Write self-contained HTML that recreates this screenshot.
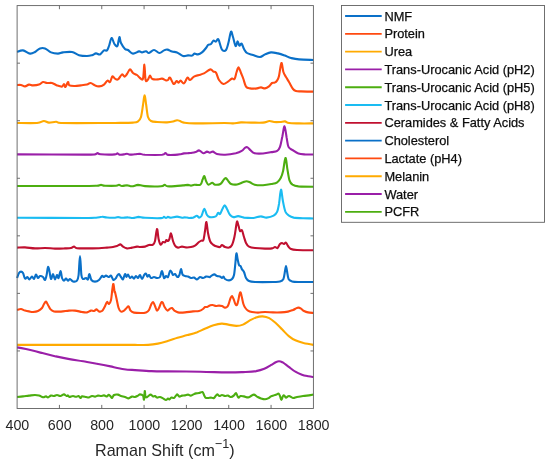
<!DOCTYPE html>
<html><head><meta charset="utf-8"><title>Raman spectra</title>
<style>html,body{margin:0;padding:0;background:#fff}svg{display:block}text{font-family:"Liberation Sans",Arial,Helvetica,sans-serif;fill:#262626}.lg text{fill:#0d0d0d;stroke:#0d0d0d;stroke-width:.25px}</style></head><body>
<svg width="550" height="463" viewBox="0 0 550 463">
<rect x="0" y="0" width="550" height="463" fill="#fff"/>
<g fill="none" stroke-width="2.1" stroke-linejoin="round" stroke-linecap="butt">
<path stroke="#0A70C8" d="M17.1,52.0C18.1,51.7 20.8,50.1 23.0,50.4C25.2,50.7 28.0,53.3 30.0,53.6C32.0,53.9 33.3,52.9 35.0,52.0C36.7,51.1 38.3,49.0 40.0,48.4C41.7,47.8 43.1,47.7 45.0,48.4C46.9,49.1 48.8,51.5 51.0,52.4C53.2,53.3 56.0,53.6 58.0,53.6C60.0,53.6 60.6,52.7 63.0,52.4C65.4,52.1 69.3,51.5 72.0,52.0C74.7,52.5 76.5,54.5 79.0,55.2C81.5,55.9 84.8,56.0 87.0,56.0C89.2,56.0 90.5,55.6 92.0,55.2C93.5,54.8 94.6,53.5 96.0,53.4C97.4,53.3 98.6,54.9 100.0,54.4C101.4,53.9 102.8,51.1 104.0,50.4C105.2,49.7 106.2,51.1 107.0,50.4C107.8,49.7 108.2,48.1 109.0,46.0C109.8,43.9 110.7,38.3 111.6,38.0C112.5,37.7 113.4,42.6 114.4,44.0C115.4,45.4 116.6,47.2 117.4,46.0C118.2,44.8 118.8,37.5 119.4,37.0C120.0,36.5 120.0,41.0 121.0,43.0C122.0,45.0 123.8,47.8 125.0,49.0C126.2,50.2 126.6,49.2 128.0,50.0C129.4,50.8 131.1,53.4 133.0,53.6C134.9,53.8 137.5,51.6 139.0,51.4C140.5,51.2 140.8,52.4 142.0,52.4C143.2,52.4 144.8,51.1 146.0,51.2C147.2,51.3 147.6,53.2 149.0,53.0C150.4,52.8 152.2,50.0 154.0,50.0C155.8,50.0 157.7,52.9 159.4,53.0C161.1,53.1 162.6,51.0 164.0,50.4C165.4,49.8 166.0,49.4 167.4,49.6C168.8,49.8 170.4,51.1 172.0,51.6C173.6,52.1 175.1,51.7 177.0,52.4C178.9,53.1 181.1,55.5 183.0,56.0C184.9,56.5 186.5,55.5 188.0,55.4C189.5,55.3 190.9,55.9 192.0,55.6C193.1,55.3 193.4,53.8 194.4,53.6C195.4,53.4 196.7,54.6 198.0,54.4C199.3,54.2 200.6,53.5 202.0,52.4C203.4,51.3 205.0,49.3 206.0,48.0C207.0,46.7 207.2,45.7 208.0,45.0C208.8,44.3 210.1,44.7 211.0,44.0C211.9,43.3 212.6,41.0 213.4,40.6C214.2,40.2 215.2,41.8 216.0,41.6C216.8,41.4 217.4,38.0 218.4,39.4C219.4,40.8 220.7,47.8 222.0,49.6C223.3,51.4 224.9,51.3 226.0,50.0C227.1,48.7 227.8,45.1 228.6,42.0C229.4,38.9 230.3,32.5 231.0,31.6C231.7,30.8 232.2,34.6 233.0,37.0C233.8,39.4 234.8,45.3 235.6,46.0C236.4,46.7 237.0,41.5 237.6,41.4C238.2,41.3 238.7,45.2 239.4,45.6C240.1,46.0 240.8,43.0 241.6,43.6C242.4,44.2 243.1,47.4 244.0,49.0C244.9,50.6 245.5,52.0 247.0,53.0C248.5,54.0 250.8,54.3 253.0,55.0C255.2,55.7 258.0,57.1 260.0,57.0C262.0,56.9 263.1,55.2 265.0,54.4C266.9,53.6 268.8,52.6 271.0,52.4C273.2,52.2 275.6,52.9 278.0,53.4C280.4,53.9 282.8,54.8 285.0,55.6C287.2,56.4 288.6,57.4 291.0,58.0C293.4,58.6 295.2,59.1 299.0,59.4C302.8,59.7 311.0,59.9 313.4,60.0"/>
<path stroke="#FF4A10" d="M17.1,85.0C17.8,85.0 19.7,84.8 21.0,85.0C22.3,85.2 23.6,86.5 25.0,86.4C26.4,86.3 27.6,84.8 29.0,84.6C30.4,84.4 31.3,85.4 33.0,85.4C34.7,85.4 37.3,85.2 39.0,84.6C40.7,84.0 41.6,82.3 43.0,82.0C44.4,81.7 45.5,82.8 47.0,83.0C48.5,83.2 50.3,82.6 52.0,83.0C53.7,83.4 55.3,84.8 57.0,85.4C58.7,86.0 60.8,86.8 62.0,86.6C63.2,86.4 63.4,83.9 64.0,84.0C64.6,84.1 64.7,87.3 65.4,87.0C66.1,86.7 67.3,82.3 68.0,82.0C68.7,81.7 68.2,84.7 69.4,85.4C70.6,86.1 73.0,86.0 75.0,86.0C77.0,86.0 79.0,85.6 81.0,85.4C83.0,85.2 85.4,85.0 87.0,84.6C88.6,84.2 89.2,82.9 90.6,83.0C92.0,83.1 93.6,84.8 95.0,85.4C96.4,86.0 97.5,86.5 99.0,86.4C100.5,86.3 102.6,85.6 104.0,84.6C105.4,83.6 106.4,81.0 107.4,80.6C108.4,80.2 109.2,82.7 110.0,82.0C110.8,81.3 111.6,77.0 112.4,76.4C113.2,75.8 114.0,78.1 115.0,78.6C116.0,79.1 116.8,80.1 118.0,79.4C119.2,78.7 120.9,74.9 122.0,74.4C123.1,73.9 123.8,76.7 124.6,76.6C125.4,76.5 126.1,75.2 127.0,74.0C127.9,72.8 129.0,69.6 130.0,69.4C131.0,69.2 131.8,72.0 133.0,73.0C134.2,74.0 135.8,74.2 137.0,75.0C138.2,75.8 139.0,77.4 140.0,78.0C141.0,78.6 142.3,80.9 143.0,78.6C143.7,76.3 144.0,64.4 144.4,64.6C144.8,64.8 145.0,77.5 145.6,80.0C146.2,82.5 147.3,80.1 148.0,79.4C148.7,78.7 149.3,75.7 150.0,75.6C150.7,75.5 151.0,78.4 152.4,79.0C153.8,79.6 156.4,79.5 158.0,79.4C159.6,79.3 160.6,78.4 162.0,78.6C163.4,78.8 165.0,80.2 166.0,80.4C167.0,80.6 167.3,80.5 168.0,80.0C168.7,79.5 169.0,76.9 170.0,77.6C171.0,78.3 172.5,83.4 173.6,84.0C174.7,84.6 175.8,81.2 176.6,81.0C177.4,80.8 177.9,82.7 178.6,82.6C179.3,82.5 179.7,80.5 180.6,80.6C181.5,80.7 182.8,83.9 184.0,83.4C185.2,82.9 186.4,78.2 187.4,77.6C188.4,77.0 188.9,80.2 190.0,80.0C191.1,79.8 192.5,77.4 194.0,76.6C195.5,75.8 197.3,75.5 199.0,75.0C200.7,74.5 202.5,74.1 204.0,73.4C205.5,72.7 206.8,71.3 208.0,70.6C209.2,69.9 210.1,69.2 211.0,69.4C211.9,69.6 212.6,71.1 213.4,71.6C214.2,72.1 215.0,71.2 216.0,72.6C217.0,74.0 217.7,78.1 219.0,80.0C220.3,81.9 221.9,83.7 223.4,84.0C224.9,84.3 226.5,82.5 228.0,81.6C229.5,80.7 230.9,79.0 232.0,78.6C233.1,78.2 233.8,80.1 234.6,79.0C235.4,77.9 235.9,74.0 236.6,72.0C237.3,70.0 237.9,67.2 238.6,67.4C239.3,67.6 240.2,71.0 241.0,73.0C241.8,75.0 242.6,76.7 243.4,79.0C244.2,81.3 244.9,85.0 246.0,86.6C247.1,88.2 248.1,88.1 250.0,88.4C251.9,88.7 255.1,88.6 257.0,88.4C258.9,88.2 259.6,87.4 261.0,87.4C262.4,87.4 263.6,88.6 265.0,88.4C266.4,88.2 267.8,87.3 269.0,86.4C270.2,85.5 271.0,83.6 272.0,83.0C273.0,82.4 273.8,83.0 274.6,82.6C275.5,82.2 276.3,81.7 277.0,80.6C277.7,79.5 278.3,79.0 279.0,76.0C279.7,73.0 280.7,63.7 281.4,63.0C282.1,62.3 282.6,69.6 283.4,72.0C284.2,74.4 285.0,75.3 286.0,77.0C287.0,78.7 287.8,80.0 289.0,82.0C290.2,84.0 291.8,87.5 293.0,89.0C294.2,90.5 294.6,90.6 296.0,91.0C297.4,91.4 298.0,91.3 301.0,91.4C304.0,91.5 311.3,91.6 313.4,91.6"/>
<path stroke="#FFAA00" d="M17.1,123.0C20.5,123.0 32.5,123.3 37.0,123.0C41.5,122.7 41.8,121.1 43.8,121.0C45.8,120.9 46.9,122.5 49.0,122.6C51.1,122.7 54.2,121.7 56.2,121.8C58.2,121.9 56.2,122.8 61.0,123.0C70.3,123.2 101.8,123.0 111.0,123.0C115.0,123.0 111.3,123.1 115.0,123.0C118.7,122.9 129.1,122.9 133.0,122.6C136.9,122.3 136.6,122.4 138.0,121.4C139.4,120.4 140.2,119.8 141.0,117.0C141.8,114.2 142.5,108.3 143.0,105.0C143.5,101.7 143.7,99.4 144.0,97.8C144.3,96.2 144.4,95.4 144.6,95.4C144.8,95.4 144.9,96.2 145.2,97.8C145.5,99.4 145.7,101.7 146.2,105.0C146.7,108.3 147.2,114.3 148.0,117.0C148.8,119.7 149.5,120.2 151.0,121.0C152.5,121.8 154.3,121.8 157.0,122.0C159.7,122.2 164.3,122.5 167.0,122.4C169.7,122.3 171.3,122.0 173.0,121.6C174.7,121.2 175.8,120.3 177.0,120.2C178.2,120.1 178.8,120.6 180.0,121.0C181.2,121.4 181.4,122.2 184.0,122.6C186.6,123.0 188.1,123.3 195.0,123.4C201.9,123.5 218.1,123.0 224.6,123.0C231.1,123.0 230.2,123.5 233.0,123.4C235.8,123.3 237.9,122.5 241.0,122.4C244.1,122.3 247.3,122.6 251.0,122.6C254.7,122.6 259.9,122.9 263.0,122.6C266.1,122.3 267.5,121.1 269.4,121.0C271.3,120.9 272.2,121.8 274.0,122.0C275.8,122.2 278.1,122.1 280.0,122.0C281.9,121.9 283.5,121.2 285.0,121.4C286.5,121.6 286.6,122.7 289.0,123.0C291.4,123.3 294.9,123.3 299.0,123.4C303.1,123.5 311.0,123.4 313.4,123.4"/>
<path stroke="#9A1FA8" d="M17.1,154.4C28.6,154.5 71.8,154.6 85.0,154.6C95.0,154.6 92.9,154.7 95.0,154.4C97.1,154.2 96.6,153.1 97.6,153.1C98.6,153.1 97.6,154.1 100.6,154.3C103.6,154.5 112.1,154.6 115.0,154.4C117.4,154.3 116.7,153.4 117.4,153.4C118.1,153.4 118.3,154.4 119.4,154.6C120.5,154.8 122.7,154.6 124.0,154.4C125.3,154.3 126.0,153.7 127.0,153.7C128.0,153.7 128.6,154.5 130.0,154.6C131.4,154.7 133.3,154.4 135.0,154.3C136.7,154.2 138.3,153.8 140.0,153.8C141.7,153.9 141.3,154.6 145.0,154.8C148.7,154.9 158.5,155.0 162.0,154.8C165.4,154.5 164.4,153.1 165.4,153.1C166.4,153.1 166.4,154.6 168.0,154.9C169.6,155.2 173.0,155.0 175.0,154.9C177.0,154.8 178.5,154.6 180.0,154.3C181.5,154.0 182.5,153.6 184.0,153.4C185.5,153.2 187.6,153.2 189.0,153.1C190.4,153.0 191.0,153.0 192.1,152.8C193.2,152.7 194.4,152.5 195.6,152.1C196.8,151.7 197.9,150.2 199.2,150.4C200.5,150.7 202.1,153.1 203.4,153.3C204.8,153.5 205.9,151.7 207.0,151.6C208.1,151.6 208.8,152.8 209.8,152.8C210.8,152.8 211.7,151.4 212.9,151.6C214.1,151.8 214.8,153.5 216.9,154.0C219.0,154.5 222.0,154.8 225.2,154.7C228.4,154.6 233.0,153.9 235.8,153.3C238.6,152.6 240.1,151.9 241.7,150.9C243.3,150.0 244.3,148.2 245.3,147.6C246.3,147.0 246.7,146.9 247.6,147.4C248.6,147.9 249.5,149.4 250.7,150.4C251.9,151.5 252.6,152.8 254.7,153.3C256.8,153.8 260.2,153.7 263.0,153.5C265.8,153.3 268.9,152.6 271.3,152.1C273.7,151.7 275.7,151.8 277.2,150.9C278.7,150.0 279.1,149.4 280.0,146.9C280.9,144.4 281.6,139.8 282.4,136.3C283.1,132.8 283.8,126.1 284.5,126.3C285.2,126.6 286.0,134.0 286.6,137.4C287.3,140.9 287.5,144.8 288.5,146.9C289.5,149.0 290.9,148.9 292.5,150.0C294.2,151.1 296.2,152.8 298.4,153.5C300.7,154.3 303.0,154.3 305.5,154.5C308.1,154.6 312.1,154.5 313.4,154.5"/>
<path stroke="#4CAE10" d="M17.1,186.0C28.6,186.0 71.4,186.1 85.0,186.0C97.0,185.9 94.3,185.9 97.0,185.7C99.7,185.5 99.6,184.9 101.0,184.9C102.4,184.9 102.5,185.6 105.0,185.7C107.5,185.8 113.6,185.9 116.0,185.7C118.4,185.5 118.0,184.7 119.0,184.8C120.0,184.9 120.6,185.9 122.0,186.0C123.4,186.1 125.3,185.2 127.0,185.2C128.7,185.3 130.1,186.4 132.0,186.3C133.9,186.2 135.8,185.0 138.0,184.9C140.2,184.9 141.1,185.9 145.0,186.1C148.9,186.4 157.7,186.5 161.0,186.3C164.3,186.1 163.5,184.8 164.6,184.8C165.7,184.8 165.6,186.1 167.4,186.3C169.2,186.5 172.3,186.3 175.0,186.1C177.7,186.0 180.8,185.6 183.0,185.4C185.2,185.2 186.6,184.9 188.0,184.9C189.4,185.0 189.9,185.6 191.0,185.6C192.1,185.6 192.9,184.9 194.4,184.7C196.0,184.6 199.0,185.6 200.4,184.7C201.8,183.8 202.0,180.7 202.7,179.3C203.4,177.8 203.8,175.8 204.4,176.2C205.0,176.6 205.5,180.2 206.3,181.6C207.0,183.1 207.6,184.5 208.6,184.7C209.6,184.9 211.1,182.8 212.2,182.8C213.3,182.8 213.8,184.5 215.2,184.7C216.7,184.9 219.1,184.7 220.4,184.0C221.8,183.3 222.4,181.5 223.3,180.4C224.2,179.4 224.8,178.0 225.7,178.1C226.5,178.2 227.3,179.9 228.2,180.9C229.2,181.9 229.6,183.4 231.1,184.0C232.6,184.6 235.0,184.8 237.0,184.5C239.0,184.2 241.3,182.9 242.9,182.3C244.5,181.8 245.2,181.2 246.4,181.2C247.7,181.2 248.6,181.7 250.0,182.3C251.4,183.0 252.5,184.2 254.7,184.7C256.9,185.2 260.2,185.3 263.0,185.2C265.8,185.1 268.9,184.5 271.3,184.0C273.7,183.5 275.6,183.4 277.2,182.3C278.8,181.3 279.7,180.0 280.7,178.1C281.7,176.2 282.3,174.4 283.1,171.0C283.9,167.6 284.7,158.4 285.4,158.0C286.2,157.6 286.7,164.8 287.3,168.6C288.0,172.5 288.6,177.7 289.5,180.4C290.4,183.2 291.0,183.7 292.5,184.7C294.1,185.7 294.9,186.0 298.4,186.4C302.0,186.7 310.9,186.8 313.4,186.8"/>
<path stroke="#1ABCF2" d="M17.1,217.7C28.6,217.7 71.6,218.0 85.0,218.0C96.0,218.0 93.1,217.9 96.0,217.7C98.9,217.5 100.1,216.8 102.0,216.8C103.9,216.7 104.8,217.4 107.0,217.5C109.2,217.7 113.0,217.8 115.0,217.7C117.0,217.6 117.4,217.0 118.6,217.1C119.8,217.1 120.4,217.8 122.0,217.8C123.6,217.9 126.1,217.3 128.0,217.4C129.9,217.4 131.2,218.1 133.0,218.0C134.8,217.9 136.6,217.0 138.6,216.9C140.6,216.9 141.2,217.6 145.0,217.8C148.8,218.0 157.8,218.3 161.0,218.1C164.0,218.0 163.2,217.0 164.0,216.9C164.8,216.9 165.3,218.0 166.0,218.0C166.7,218.0 167.2,217.0 168.0,216.9C168.8,216.9 169.5,217.7 171.0,217.7C172.5,217.6 175.1,216.6 177.0,216.6C178.9,216.6 180.6,217.6 182.0,217.7C183.4,217.8 183.8,217.2 185.0,217.2C186.2,217.3 187.6,217.9 189.0,218.0C190.4,218.0 191.9,217.9 193.3,217.6C194.6,217.2 195.8,215.7 196.8,215.7C197.8,215.7 198.4,217.6 199.2,217.6C200.0,217.6 200.7,217.1 201.6,215.7C202.4,214.2 203.5,209.0 204.4,208.8C205.3,208.6 205.8,213.3 206.8,214.7C207.7,216.1 208.3,216.8 209.8,217.1C211.3,217.4 214.3,217.1 215.7,216.4C217.1,215.6 217.4,213.2 218.1,212.8C218.8,212.4 219.3,214.6 220.0,214.0C220.7,213.4 221.5,210.8 222.3,209.3C223.2,207.8 223.9,205.2 224.7,205.2C225.5,205.2 226.2,207.7 227.1,209.3C228.0,210.9 228.8,213.4 229.9,214.7C231.0,216.0 232.0,216.8 233.4,217.1C234.9,217.3 236.4,216.0 238.2,216.1C240.0,216.2 241.5,217.2 244.1,217.6C246.7,217.9 250.7,218.2 253.5,218.0C256.4,217.8 258.4,216.4 260.6,216.4C262.8,216.3 264.3,217.7 266.5,217.6C268.8,217.4 271.8,216.7 273.6,215.7C275.4,214.6 276.3,213.7 277.2,211.6C278.1,209.6 278.4,207.1 279.1,203.4C279.7,199.6 280.3,190.1 281.0,189.7C281.6,189.2 282.1,197.3 282.9,201.0C283.6,204.7 284.4,209.1 285.4,211.6C286.5,214.1 287.6,214.6 289.0,215.7C290.4,216.7 291.3,217.1 293.7,217.6C296.1,218.0 299.8,218.1 303.2,218.2C306.5,218.4 311.7,218.4 313.4,218.5"/>
<path stroke="#C01030" d="M17.1,247.6C18.4,247.6 22.0,247.3 25.0,247.4C28.0,247.5 31.6,248.3 35.0,248.4C38.4,248.5 41.6,248.0 45.0,248.0C48.4,248.0 51.6,248.5 55.0,248.6C58.4,248.7 62.3,248.5 65.0,248.4C67.7,248.3 69.5,248.3 71.0,248.0C72.5,247.7 73.0,246.6 74.0,246.6C75.0,246.6 74.8,247.9 77.0,248.2C79.2,248.5 83.3,248.4 87.0,248.4C90.7,248.4 95.6,248.3 99.0,248.2C102.4,248.1 104.6,247.8 107.0,247.6C109.4,247.4 111.3,247.3 113.0,247.0C114.7,246.7 115.7,246.4 117.0,246.0C118.3,245.6 119.4,244.3 120.4,244.4C121.4,244.5 121.9,245.9 123.0,246.6C124.1,247.3 125.5,248.2 127.0,248.4C128.5,248.6 130.3,247.9 132.0,247.6C133.7,247.3 135.6,246.7 137.0,246.6C138.4,246.5 138.6,247.0 140.0,247.0C141.4,247.0 143.5,246.9 145.0,246.6C146.5,246.3 147.6,245.3 149.0,245.0C150.4,244.7 152.0,245.3 153.0,244.6C154.0,243.9 154.3,243.7 155.0,241.0C155.7,238.3 156.4,229.3 157.0,229.0C157.6,228.7 158.0,236.3 158.6,239.0C159.2,241.7 159.9,244.1 160.6,244.6C161.3,245.1 162.3,242.4 163.0,242.0C163.7,241.6 164.4,242.7 165.0,242.4C165.6,242.1 165.9,240.2 166.4,240.0C166.9,239.8 167.5,241.2 168.0,241.0C168.5,240.8 168.9,240.3 169.4,239.0C169.9,237.7 170.4,233.1 171.0,233.4C171.6,233.7 172.3,238.9 173.0,241.0C173.7,243.1 174.2,244.5 175.0,245.6C175.8,246.7 176.8,247.4 178.0,247.6C179.2,247.8 180.6,246.6 182.0,246.6C183.4,246.6 184.5,247.3 186.0,247.4C187.5,247.5 189.5,247.3 191.0,247.0C192.5,246.7 193.6,246.4 195.0,245.6C196.4,244.8 197.9,242.8 199.0,242.0C200.1,241.2 200.7,240.9 201.4,240.6C202.1,240.3 202.8,241.6 203.4,240.0C204.0,238.4 204.5,234.1 205.0,231.0C205.5,227.9 205.9,221.7 206.4,222.0C206.9,222.3 207.4,229.8 208.0,233.0C208.6,236.2 209.2,239.0 210.0,241.0C210.8,243.0 211.8,243.6 213.0,244.6C214.2,245.6 215.8,246.2 217.0,246.6C218.2,247.0 219.2,247.3 220.0,247.0C220.8,246.7 221.2,245.0 222.0,245.0C222.8,245.0 223.8,246.6 225.0,247.0C226.2,247.4 227.8,247.9 229.0,247.6C230.2,247.3 231.1,246.8 232.0,245.0C232.9,243.2 233.7,240.1 234.4,237.0C235.1,233.9 235.6,229.7 236.0,227.0C236.4,224.3 236.6,221.6 237.0,221.4C237.4,221.2 238.1,224.4 238.6,226.0C239.1,227.6 239.4,230.3 240.0,231.0C240.6,231.7 241.3,229.4 242.0,230.4C242.7,231.4 243.3,234.9 244.0,237.0C244.7,239.1 245.2,241.4 246.0,243.0C246.8,244.6 247.5,245.8 249.0,246.6C250.5,247.4 252.3,247.7 255.0,248.0C257.7,248.3 262.1,248.5 265.0,248.6C267.9,248.7 270.3,248.7 272.0,248.4C273.7,248.1 274.1,247.1 275.0,247.0C275.9,246.9 276.5,248.5 277.4,248.0C278.2,247.5 279.2,244.8 280.0,244.0C280.8,243.2 281.3,243.0 282.0,243.0C282.7,243.0 283.3,244.1 284.0,244.0C284.7,243.9 285.3,242.3 286.0,242.6C286.7,242.9 287.1,244.9 288.0,246.0C288.9,247.1 289.5,248.3 291.0,249.0C292.5,249.7 293.2,249.8 297.0,250.0C300.8,250.2 310.6,250.2 313.4,250.2"/>
<path stroke="#0A70C8" d="M17.1,278.0C17.4,277.1 18.3,274.1 19.0,273.0C19.7,271.9 20.3,271.6 21.0,271.6C21.7,271.6 22.3,271.8 23.0,273.0C23.7,274.2 24.3,277.9 25.0,278.6C25.7,279.3 26.7,276.9 27.4,277.0C28.1,277.1 28.6,279.5 29.4,279.4C30.2,279.3 31.2,276.7 32.0,276.6C32.8,276.5 33.3,279.3 34.0,279.0C34.7,278.7 35.3,274.8 36.0,274.6C36.7,274.4 37.3,277.8 38.0,278.0C38.7,278.2 39.1,276.2 40.0,276.0C40.9,275.8 42.1,276.3 43.0,277.0C43.9,277.7 44.4,280.3 45.0,280.0C45.6,279.7 46.1,277.2 46.6,275.0C47.1,272.8 47.5,267.7 48.0,267.0C48.5,266.3 48.9,269.0 49.4,271.0C49.9,273.0 50.4,278.5 51.0,279.0C51.6,279.5 52.3,273.9 53.0,274.0C53.7,274.1 54.3,279.2 55.0,279.4C55.7,279.6 56.4,275.2 57.0,275.0C57.6,274.8 58.0,278.7 58.6,278.0C59.2,277.3 60.0,271.0 60.6,271.0C61.2,271.0 61.4,276.4 62.0,278.0C62.6,279.6 63.3,280.5 64.0,280.6C64.7,280.7 65.3,278.6 66.0,278.6C66.7,278.6 67.3,280.5 68.0,280.6C68.7,280.7 69.2,278.9 70.0,279.0C70.8,279.1 71.8,281.1 73.0,281.4C74.2,281.7 76.0,281.7 77.0,280.6C78.0,279.5 78.1,279.2 78.6,275.0C79.1,270.8 79.5,256.0 80.0,256.0C80.5,256.0 80.9,271.1 81.4,275.0C81.9,278.9 82.2,278.5 83.0,279.0C83.8,279.5 85.2,277.9 86.0,278.0C86.8,278.1 87.4,280.1 88.0,279.4C88.6,278.7 88.8,273.9 89.4,274.0C90.0,274.1 90.4,278.7 91.4,280.0C92.4,281.3 93.7,281.6 95.0,281.6C96.3,281.6 97.8,281.0 99.0,280.0C100.2,279.0 101.2,276.5 102.0,276.0C102.8,275.5 103.3,277.1 104.0,277.0C104.7,276.9 105.2,275.6 106.0,275.6C106.8,275.6 108.2,277.0 109.0,277.0C109.8,277.0 110.3,275.1 111.0,275.6C111.7,276.1 112.6,279.6 113.4,280.0C114.2,280.4 115.4,278.7 116.0,278.0C116.6,277.3 116.5,276.7 117.0,276.0C117.5,275.3 118.3,273.8 119.0,274.0C119.7,274.2 120.3,276.1 121.0,277.0C121.7,277.9 122.3,279.9 123.0,279.4C123.7,278.9 124.4,274.4 125.0,274.0C125.6,273.6 125.9,276.9 126.4,277.0C126.9,277.1 127.4,274.4 128.0,274.6C128.6,274.8 129.3,277.7 130.0,278.0C130.7,278.3 131.3,276.5 132.0,276.6C132.7,276.7 133.3,278.7 134.0,278.6C134.7,278.5 135.3,276.1 136.0,276.0C136.7,275.9 137.3,278.2 138.0,278.0C138.7,277.8 139.3,274.8 140.0,275.0C140.7,275.2 141.3,279.1 142.0,279.0C142.7,278.9 143.7,275.5 144.4,274.6C145.1,273.7 145.5,273.3 146.0,273.6C146.5,273.9 146.9,276.4 147.4,276.6C147.9,276.8 148.4,274.8 149.0,275.0C149.6,275.2 150.2,277.7 151.0,278.0C151.8,278.3 153.0,277.0 154.0,277.0C155.0,277.0 156.0,278.0 157.0,278.0C158.0,278.0 159.2,278.2 160.0,277.0C160.8,275.8 161.3,270.8 162.0,271.0C162.7,271.2 163.3,277.1 164.0,278.0C164.7,278.9 165.3,276.2 166.0,276.0C166.7,275.8 167.3,277.9 168.0,277.0C168.7,276.1 169.4,271.9 170.0,271.0C170.6,270.1 171.1,271.3 171.6,272.0C172.1,272.7 172.4,274.7 173.0,275.0C173.6,275.3 174.3,273.7 175.0,274.0C175.7,274.3 176.7,276.8 177.4,277.0C178.1,277.2 178.8,276.4 179.4,275.0C180.0,273.6 180.5,269.1 181.0,269.0C181.5,268.9 181.9,273.4 182.6,274.6C183.3,275.8 184.1,275.7 185.0,276.0C185.9,276.3 187.0,276.3 188.0,276.6C189.0,276.9 190.0,277.8 191.0,278.0C192.0,278.2 193.0,277.4 194.0,277.6C195.0,277.8 196.0,279.5 197.0,279.4C198.0,279.3 199.0,277.2 200.0,277.0C201.0,276.8 202.0,278.1 203.0,278.0C204.0,277.9 205.0,276.8 206.0,276.6C207.0,276.4 208.3,276.9 209.0,277.0C209.7,277.1 209.5,277.3 210.0,277.0C210.5,276.7 211.3,275.8 212.0,275.4C212.7,275.0 213.6,274.3 214.4,274.4C215.2,274.5 216.0,275.7 217.0,276.0C218.0,276.3 219.2,276.1 220.0,276.4C220.8,276.7 221.4,278.0 222.0,278.0C222.6,278.0 223.1,276.4 223.6,276.6C224.1,276.8 224.1,278.4 225.0,279.0C225.9,279.6 227.8,280.4 229.0,280.4C230.2,280.4 231.2,279.9 232.0,279.0C232.8,278.1 233.4,277.7 234.0,275.0C234.6,272.3 235.0,266.7 235.4,263.0C235.8,259.3 236.0,254.1 236.4,253.4C236.8,252.7 237.2,257.0 237.6,259.0C238.0,261.0 238.5,263.8 239.0,265.0C239.5,266.2 240.1,265.3 240.6,266.0C241.1,266.7 241.4,268.4 242.0,269.4C242.6,270.4 243.3,270.5 244.0,272.0C244.7,273.5 245.2,276.5 246.0,278.0C246.8,279.5 247.5,280.3 249.0,281.0C250.5,281.7 250.9,281.8 255.0,282.0C259.1,282.2 268.8,282.1 273.0,282.0C277.2,281.9 278.2,282.1 280.0,281.6C281.8,281.1 282.5,280.8 283.4,279.0C284.2,277.2 284.6,273.2 285.0,271.0C285.4,268.8 285.7,266.0 286.0,266.0C286.3,266.0 286.6,268.8 287.0,271.0C287.4,273.2 287.8,277.2 288.6,279.0C289.5,280.8 290.2,280.9 292.0,281.4C293.8,281.9 295.4,281.9 299.0,282.0C302.6,282.1 311.0,282.0 313.4,282.0"/>
<path stroke="#FF4A10" d="M17.1,310.0C17.8,309.8 19.7,308.9 21.0,309.0C22.3,309.1 23.6,310.2 25.0,310.6C26.4,311.0 27.6,311.2 29.0,311.4C30.4,311.6 31.5,312.1 33.0,312.0C34.5,311.9 36.5,311.7 38.0,311.0C39.5,310.3 41.0,309.2 42.0,308.0C43.0,306.8 43.3,305.1 44.0,304.0C44.7,302.9 45.3,301.4 46.0,301.6C46.7,301.8 47.2,303.7 48.0,305.0C48.8,306.3 49.6,308.3 50.6,309.4C51.6,310.5 52.2,311.0 54.0,311.4C55.8,311.8 58.5,311.7 61.0,311.6C63.5,311.5 66.6,310.8 69.0,310.6C71.4,310.4 72.8,310.4 75.0,310.6C77.2,310.8 80.0,311.7 82.0,312.0C84.0,312.3 85.5,312.6 87.0,312.4C88.5,312.2 89.8,310.8 91.0,310.6C92.2,310.4 93.0,311.2 94.0,311.0C95.0,310.8 95.8,309.3 96.6,309.4C97.4,309.5 98.1,311.1 99.0,311.4C99.9,311.7 101.0,311.7 102.0,311.0C103.0,310.3 103.8,308.5 104.6,307.0C105.4,305.5 106.3,302.5 107.0,302.0C107.7,301.5 108.3,304.3 109.0,304.0C109.7,303.7 110.4,302.6 111.0,300.0C111.6,297.4 112.0,291.7 112.4,289.0C112.8,286.3 113.0,283.5 113.4,284.0C113.8,284.5 114.3,290.6 114.6,292.0C114.9,293.4 114.7,290.8 115.0,292.0C115.3,293.2 116.0,296.3 116.6,299.0C117.2,301.7 117.9,305.9 118.6,308.0C119.3,310.1 120.1,311.2 121.0,311.6C121.9,312.0 123.0,311.2 124.0,310.6C125.0,310.0 125.8,308.7 126.6,308.0C127.4,307.3 127.9,306.0 128.6,306.4C129.3,306.8 129.7,309.5 130.6,310.6C131.5,311.7 132.2,312.2 134.0,312.6C135.8,313.0 139.0,313.0 141.0,313.0C143.0,313.0 144.6,312.9 146.0,312.4C147.4,311.9 148.2,311.3 149.0,310.0C149.8,308.7 150.3,306.4 151.0,305.0C151.7,303.6 152.3,301.8 153.0,302.0C153.7,302.2 154.3,304.5 155.0,306.0C155.7,307.5 156.3,310.3 157.0,310.6C157.7,310.9 158.3,309.3 159.0,308.0C159.7,306.7 160.4,304.0 161.0,303.0C161.6,302.0 162.0,301.7 162.6,302.4C163.2,303.1 163.8,305.6 164.6,307.0C165.4,308.4 166.5,310.3 167.4,310.6C168.3,310.9 169.2,309.0 170.0,308.6C170.8,308.2 171.3,307.7 172.0,308.0C172.7,308.3 173.4,309.9 174.4,310.6C175.4,311.3 176.2,312.1 178.0,312.4C179.8,312.7 182.4,312.6 185.0,312.4C187.6,312.2 190.6,311.6 193.0,311.4C195.4,311.2 197.3,311.4 199.0,311.0C200.7,310.6 202.0,309.7 203.0,309.0C204.0,308.3 204.3,307.3 205.0,307.0C205.7,306.7 206.2,307.3 207.0,307.0C207.8,306.7 209.0,305.7 210.0,305.4C211.0,305.1 211.6,304.9 212.6,305.0C213.6,305.1 214.9,305.9 216.0,306.0C217.1,306.1 218.0,305.6 219.0,305.6C220.0,305.6 221.0,305.7 222.0,306.0C223.0,306.3 224.1,307.5 225.0,307.6C225.9,307.7 226.7,307.4 227.4,306.6C228.1,305.8 228.5,304.5 229.0,303.0C229.5,301.5 230.1,299.2 230.6,298.0C231.1,296.8 231.5,295.8 232.0,296.0C232.5,296.2 233.0,297.6 233.6,299.0C234.2,300.4 234.8,303.0 235.4,304.0C236.0,305.0 236.5,305.7 237.0,305.0C237.5,304.3 238.0,301.9 238.4,300.0C238.8,298.1 239.2,295.3 239.6,294.0C240.0,292.7 240.2,291.9 240.6,292.4C241.0,292.9 241.3,295.0 241.8,297.0C242.3,299.0 242.8,302.1 243.4,304.0C244.0,305.9 244.6,306.9 245.4,308.0C246.2,309.1 246.9,309.9 248.0,310.6C249.1,311.3 250.3,311.7 252.0,312.0C253.7,312.3 255.8,312.6 258.0,312.6C260.2,312.6 262.4,312.0 265.0,312.0C267.6,312.0 270.3,312.3 273.0,312.4C275.7,312.5 278.4,312.5 281.0,312.4C283.6,312.3 286.0,312.0 288.0,311.6C290.0,311.2 291.6,310.5 293.0,310.0C294.4,309.5 295.1,308.8 296.0,308.4C296.9,308.0 297.5,307.6 298.4,307.6C299.2,307.6 300.0,308.0 301.0,308.6C302.0,309.2 302.8,310.4 304.0,311.0C305.2,311.6 306.4,312.1 308.0,312.4C309.6,312.7 312.5,312.9 313.4,313.0"/>
<path stroke="#FFAA00" d="M17.1,344.9C37.1,344.9 115.0,344.9 135.0,344.9C135.0,344.9 135.0,344.9 135.0,344.9C137.2,344.9 144.2,345.2 148.1,344.9C152.0,344.7 154.6,344.3 157.9,343.6C161.2,343.0 164.4,342.0 167.7,341.0C171.1,340.0 174.2,338.7 177.5,337.7C180.9,336.7 184.0,336.1 187.4,335.1C190.7,334.2 194.1,333.3 197.2,332.2C200.2,331.0 202.6,329.7 205.4,328.6C208.1,327.4 210.8,326.1 213.5,325.3C216.3,324.5 219.2,323.8 221.7,323.6C224.2,323.5 225.8,324.2 228.3,324.6C230.8,325.0 233.9,325.9 236.4,325.9C239.0,325.9 240.8,325.5 243.0,324.6C245.2,323.7 247.3,321.9 249.5,320.7C251.8,319.5 253.9,318.2 256.1,317.4C258.3,316.7 260.4,316.3 262.6,316.4C264.9,316.6 267.0,317.0 269.2,318.1C271.4,319.2 273.5,321.1 275.7,323.0C278.0,324.9 280.0,327.3 282.3,329.6C284.5,331.8 286.6,334.3 288.8,336.1C291.0,337.9 292.9,339.2 295.4,340.3C297.9,341.5 300.5,342.2 303.5,343.0C306.6,343.7 311.7,344.6 313.4,344.9"/>
<path stroke="#9A1FA8" d="M17.1,347.4C18.6,347.6 21.6,348.0 25.9,349.0C30.2,350.0 37.2,351.8 42.3,353.1C47.4,354.3 51.3,355.3 55.9,356.4C60.5,357.4 64.9,358.3 69.5,359.1C74.2,359.9 78.5,360.5 83.2,361.3C87.8,362.1 92.2,362.8 96.8,363.7C101.5,364.6 105.8,365.5 110.5,366.4C115.1,367.4 119.9,368.6 124.1,369.2C128.3,369.8 130.4,369.8 135.0,370.1C139.6,370.4 145.8,370.9 151.4,371.1C156.9,371.3 159.4,371.3 167.7,371.4C176.1,371.5 190.4,371.6 200.4,371.7C210.5,371.9 219.4,372.3 226.6,372.4C233.9,372.5 238.0,372.3 243.0,372.1C248.0,371.8 252.5,371.6 256.1,371.1C259.7,370.5 261.8,369.8 264.3,368.8C266.8,367.8 268.9,366.3 270.8,365.2C272.8,364.1 274.3,362.9 275.7,362.2C277.1,361.6 277.9,361.3 279.0,361.3C280.1,361.3 280.6,361.3 282.3,362.2C283.9,363.2 286.6,365.2 288.8,366.8C291.0,368.5 293.1,370.4 295.4,371.7C297.6,373.1 299.7,373.9 301.9,374.7C304.1,375.5 306.5,375.9 308.4,376.3C310.4,376.7 312.6,376.9 313.4,377.0"/>
<path stroke="#4CAE10" d="M17.1,397.0C18.1,396.9 21.0,396.6 23.0,396.4C25.0,396.2 27.0,395.8 29.0,395.6C31.0,395.4 33.3,395.0 35.0,395.0C36.7,395.0 37.6,395.0 39.0,395.4C40.4,395.8 41.8,397.0 43.0,397.2C44.2,397.4 45.1,396.4 46.0,396.4C46.9,396.4 47.1,397.5 48.0,397.4C48.9,397.3 50.0,395.8 51.0,395.6C52.0,395.4 53.0,396.1 54.0,396.0C55.0,395.9 56.0,395.0 57.0,395.0C58.0,395.0 59.1,396.0 60.0,396.0C60.9,396.0 61.3,395.5 62.0,395.2C62.7,394.9 63.2,394.3 64.0,394.4C64.8,394.5 65.9,395.8 66.6,396.0C67.3,396.2 67.5,395.2 68.0,395.4C68.5,395.6 68.6,396.9 69.4,397.0C70.2,397.1 71.9,396.0 73.0,396.0C74.1,396.0 75.0,396.8 76.0,396.8C77.0,396.8 77.9,395.8 78.6,396.0C79.3,396.2 79.8,397.9 80.4,398.0C81.0,398.1 81.0,396.6 82.0,396.4C83.0,396.2 84.8,396.8 86.0,397.0C87.2,397.2 88.0,397.6 89.0,397.4C90.0,397.2 91.0,396.1 92.0,396.0C93.0,395.9 94.0,396.7 95.0,396.6C96.0,396.5 97.0,395.7 98.0,395.6C99.0,395.5 100.0,396.0 101.0,396.0C102.0,396.0 103.0,395.3 104.0,395.4C105.0,395.5 106.2,396.5 107.0,396.4C107.8,396.3 108.0,394.8 108.6,394.8C109.2,394.8 110.0,395.9 110.6,396.4C111.2,396.9 111.4,398.2 112.0,398.0C112.6,397.8 113.0,395.6 114.0,395.0C115.0,394.4 116.8,394.4 118.0,394.6C119.2,394.8 119.8,395.6 121.0,396.0C122.2,396.4 123.7,396.6 125.0,397.0C126.3,397.4 127.4,398.5 128.6,398.4C129.8,398.3 130.9,396.8 132.0,396.6C133.1,396.4 134.0,397.2 135.0,397.0C136.0,396.8 137.2,396.0 138.0,395.6C138.8,395.2 139.2,394.4 140.0,394.4C140.8,394.4 142.3,394.7 143.0,395.6C143.7,396.5 143.7,400.4 144.0,399.6C144.3,398.8 144.5,391.4 144.8,391.0C145.1,390.6 145.1,396.1 145.6,397.0C146.1,397.9 147.2,396.8 148.0,396.4C148.8,396.0 149.8,394.6 150.6,394.6C151.4,394.6 152.3,396.2 153.0,396.4C153.7,396.6 154.3,395.8 155.0,396.0C155.7,396.2 156.2,397.4 157.0,397.6C157.8,397.8 159.0,396.9 160.0,397.0C161.0,397.1 162.0,397.9 163.0,398.4C164.0,398.9 165.2,400.0 166.0,400.0C166.8,400.0 167.4,398.7 168.0,398.6C168.6,398.5 168.8,399.6 169.4,399.4C170.0,399.2 170.6,397.8 171.4,397.6C172.2,397.4 173.2,398.3 174.0,398.0C174.8,397.7 175.4,396.2 176.0,395.6C176.6,395.0 176.8,394.2 177.4,394.4C178.0,394.6 178.6,396.4 179.4,396.6C180.2,396.8 181.0,395.8 182.0,395.6C183.0,395.4 184.0,395.6 185.0,395.4C186.0,395.2 187.0,394.6 188.0,394.6C189.0,394.6 189.7,395.6 190.6,395.6C191.5,395.6 192.5,394.8 193.4,394.4C194.3,394.0 195.0,393.6 196.0,393.4C197.0,393.2 197.9,393.2 199.0,393.0C200.1,392.8 201.6,391.7 202.4,392.0C203.2,392.3 203.5,394.0 204.0,395.0C204.5,396.0 204.7,397.1 205.4,397.6C206.1,398.1 207.0,398.0 208.0,398.0C209.0,398.0 210.0,397.6 211.0,397.6C212.0,397.6 213.0,398.5 214.0,398.0C215.0,397.5 216.1,394.7 217.0,394.4C217.9,394.1 218.6,395.9 219.4,396.0C220.2,396.1 221.0,395.0 222.0,395.0C223.0,395.0 224.0,395.9 225.0,396.0C226.0,396.1 227.0,395.4 228.0,395.6C229.0,395.8 230.0,397.0 231.0,397.0C232.0,397.0 233.2,396.1 234.0,395.4C234.8,394.7 235.4,392.8 236.0,393.0C236.6,393.2 237.2,395.6 237.6,396.4C238.0,397.2 238.1,397.7 238.6,397.6C239.1,397.5 239.7,396.2 240.6,396.0C241.5,395.8 242.7,396.2 244.0,396.4C245.3,396.6 246.8,397.5 248.0,397.4C249.2,397.3 250.0,396.5 251.0,396.0C252.0,395.5 253.0,394.5 254.0,394.6C255.0,394.7 255.8,396.0 257.0,396.6C258.2,397.2 259.6,398.0 261.0,398.4C262.4,398.8 263.8,399.2 265.0,399.2C266.2,399.2 267.0,398.9 268.0,398.4C269.0,397.9 270.1,396.9 271.0,396.4C271.9,395.9 272.7,395.8 273.4,395.6C274.1,395.4 274.5,395.2 275.0,395.0C275.5,394.8 276.0,394.6 276.6,394.4C277.2,394.2 278.0,393.3 278.6,393.6C279.2,393.9 279.5,394.9 280.0,396.0C280.5,397.1 280.9,400.0 281.4,400.0C281.9,400.0 282.5,396.7 283.0,396.0C283.5,395.3 283.9,395.3 284.4,395.6C284.9,395.9 285.2,397.5 286.0,397.6C286.8,397.7 287.8,395.9 289.0,396.0C290.2,396.1 291.6,397.8 293.0,398.0C294.4,398.2 295.3,397.3 297.0,397.0C298.7,396.7 301.0,396.3 303.0,396.0C305.0,395.7 307.2,395.6 309.0,395.4C310.8,395.2 312.7,394.7 313.4,394.6"/>
</g>
<g stroke="#606060" stroke-width="0.9" fill="none">
<rect x="17.1" y="5.6" width="296.29999999999995" height="402.9"/>
<path d="M59.43,408.5v-3.6M59.43,5.6v3.6M101.76,408.5v-3.6M101.76,5.6v3.6M144.09,408.5v-3.6M144.09,5.6v3.6M186.41,408.5v-3.6M186.41,5.6v3.6M228.74,408.5v-3.6M228.74,5.6v3.6M271.07,408.5v-3.6M271.07,5.6v3.6M17.1,63.16h2.9000000000000004M313.4,63.16h-2.9000000000000004M17.1,120.71h2.9000000000000004M313.4,120.71h-2.9000000000000004M17.1,178.27h2.9000000000000004M313.4,178.27h-2.9000000000000004M17.1,235.83h2.9000000000000004M313.4,235.83h-2.9000000000000004M17.1,293.39h2.9000000000000004M313.4,293.39h-2.9000000000000004M17.1,350.94h2.9000000000000004M313.4,350.94h-2.9000000000000004"/>
</g>
<g font-size="15" text-anchor="middle" lengthAdjust="spacingAndGlyphs">
<text x="17.4" y="429.8" textLength="23.8" lengthAdjust="spacingAndGlyphs">400</text>
<text x="59.7" y="429.8" textLength="23.8" lengthAdjust="spacingAndGlyphs">600</text>
<text x="102.1" y="429.8" textLength="23.8" lengthAdjust="spacingAndGlyphs">800</text>
<text x="144.4" y="429.8" textLength="31.7" lengthAdjust="spacingAndGlyphs">1000</text>
<text x="186.7" y="429.8" textLength="31.7" lengthAdjust="spacingAndGlyphs">1200</text>
<text x="229.0" y="429.8" textLength="31.7" lengthAdjust="spacingAndGlyphs">1400</text>
<text x="271.4" y="429.8" textLength="31.7" lengthAdjust="spacingAndGlyphs">1600</text>
<text x="313.7" y="429.8" textLength="31.7" lengthAdjust="spacingAndGlyphs">1800</text>
</g>
<text x="164.8" y="455.9" font-size="16.1" text-anchor="middle">Raman Shift (cm<tspan font-size="12.6" dy="-7.8">−1</tspan><tspan dy="7.8">)</tspan></text>
<rect x="341.5" y="5.5" width="203" height="216.8" fill="#fff" stroke="#606060" stroke-width="0.9"/>
<g class="lg" font-size="12.8">
<line x1="345.1" x2="381.7" y1="16.0" y2="16.0" stroke="#0A70C8" stroke-width="1.85"/>
<text x="384.4" y="20.6">NMF</text>
<line x1="345.1" x2="381.7" y1="33.8" y2="33.8" stroke="#FF4A10" stroke-width="1.85"/>
<text x="384.4" y="38.4">Protein</text>
<line x1="345.1" x2="381.7" y1="51.6" y2="51.6" stroke="#FFAA00" stroke-width="1.85"/>
<text x="384.4" y="56.2">Urea</text>
<line x1="345.1" x2="381.7" y1="69.4" y2="69.4" stroke="#9A1FA8" stroke-width="1.85"/>
<text x="384.4" y="74.0">Trans-Urocanic Acid (pH2)</text>
<line x1="345.1" x2="381.7" y1="87.2" y2="87.2" stroke="#4CAE10" stroke-width="1.85"/>
<text x="384.4" y="91.8">Trans-Urocanic Acid (pH5)</text>
<line x1="345.1" x2="381.7" y1="105.0" y2="105.0" stroke="#1ABCF2" stroke-width="1.85"/>
<text x="384.4" y="109.6">Trans-Urocanic Acid (pH8)</text>
<line x1="345.1" x2="381.7" y1="122.8" y2="122.8" stroke="#C01030" stroke-width="1.85"/>
<text x="384.4" y="127.4">Ceramides &amp; Fatty Acids</text>
<line x1="345.1" x2="381.7" y1="140.6" y2="140.6" stroke="#0A70C8" stroke-width="1.85"/>
<text x="384.4" y="145.2">Cholesterol</text>
<line x1="345.1" x2="381.7" y1="158.4" y2="158.4" stroke="#FF4A10" stroke-width="1.85"/>
<text x="384.4" y="163.0">Lactate (pH4)</text>
<line x1="345.1" x2="381.7" y1="176.2" y2="176.2" stroke="#FFAA00" stroke-width="1.85"/>
<text x="384.4" y="180.8">Melanin</text>
<line x1="345.1" x2="381.7" y1="194.0" y2="194.0" stroke="#9A1FA8" stroke-width="1.85"/>
<text x="384.4" y="198.6">Water</text>
<line x1="345.1" x2="381.7" y1="211.8" y2="211.8" stroke="#4CAE10" stroke-width="1.85"/>
<text x="384.4" y="216.4">PCFR</text>
</g>
</svg></body></html>
